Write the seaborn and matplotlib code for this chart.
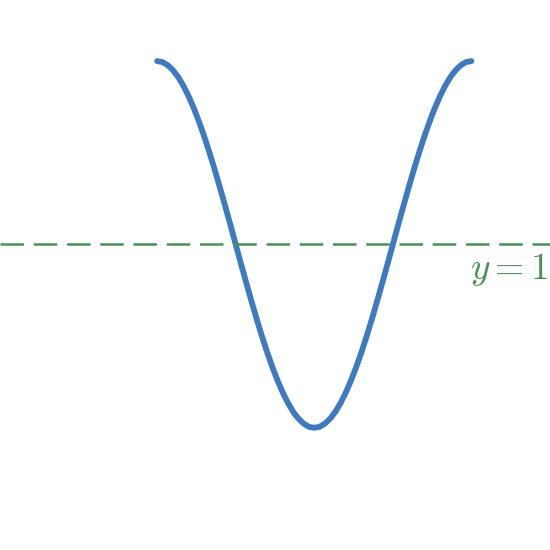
import numpy as np
import seaborn as sns
import matplotlib.pyplot as plt

sns.set_theme(style="white")
plt.rcParams['mathtext.fontset'] = 'cm'

# angle in degrees, every 6 degrees
x_deg = list(range(0, 361, 6))
y_half = [2.000, 1.995, 1.978, 1.951, 1.914, 1.866, 1.809, 1.743, 1.669, 1.588,
          1.500, 1.407, 1.309, 1.208, 1.105, 1.000, 0.895, 0.792, 0.691, 0.593,
          0.500, 0.412, 0.331, 0.257, 0.191, 0.134, 0.086, 0.049, 0.022, 0.005]
y_vals = y_half + [0.000] + y_half[::-1]

ref_level = 1
ref_label = r'$y = 1$'

curve_color = '#3d7abf'
ref_color = '#4a8f57'

fig = plt.figure(figsize=(5.5, 5.5), dpi=100)
ax = fig.add_axes([0, 0, 1, 1])

sns.lineplot(x=x_deg, y=y_vals, color=curve_color, linewidth=4.2, ax=ax,
             solid_capstyle='round', solid_joinstyle='round')
ax.axhline(ref_level, color=ref_color, linewidth=1.8, linestyle=(0, (9.4, 3.9)))
ax.text(0.997, 0.543, ref_label, transform=ax.transAxes, ha='right', va='top',
        color=ref_color, fontsize=27)

ax.set_xlim(-180, 450)
ax.set_ylim(-2 / 3, 7 / 3)
ax.axis('off')

plt.savefig('out.png', dpi=100)
plt.close()
